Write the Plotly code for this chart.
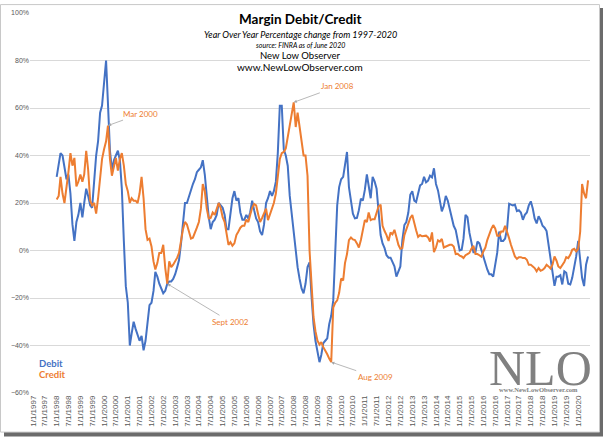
import pandas as pd
import plotly.graph_objects as go

# ---------------- data (YoY % change, monthly Jan 1998 .. Jun 2020) ----------------
months = pd.date_range("1998-01-01", "2020-06-01", freq="MS")

debit = [
    31, 36, 41, 40, 35, 30, 32, 24, 11, 4, 12, 15,                    # 1998
    20, 14, 20, 26, 23, 19, 18, 30, 40, 46, 58, 61,                   # 1999
    72, 80, 62, 42, 34, 38, 40, 42, 38, 26, 4, -15,                   # 2000
    -22, -40, -35, -30, -33, -36, -38, -36, -42, -38, -30, -23,       # 2001
    -22, -17, -9, -11, -14, -16, -18, -17, -14, -13, -13, -12,        # 2002
    -10, -7, -4, 3, 12, 20, 20, 23, 26, 28, 30, 33,                   # 2003
    34, 35, 38, 32, 23, 14, 9, 12, 13, 15, 20, 19,                    # 2004
    18, 15, 9, 9, 15, 22, 25, 21, 22, 16, 13, 13,                     # 2005
    15, 13.5, 16, 21, 17, 13.5, 12, 8, 6.5, 11, 20, 22,               # 2006
    25, 23, 25, 29, 41, 61, 61, 42.6, 40, 35.7, 23, 15,               # 2007
    8, 1, -7, -12, -16, -18, -14, -7, -5, -19, -31, -38,              # 2008
    -42, -47, -44, -39, -38, -37, -31, -27.5, -21, 1, 19, 26.7,       # 2009
    30, 31, 35.7, 41.5, 26.7, 19.7, 15.5, 13.5, 13.7, 17, 21.8, 21,   # 2010
    25.5, 32, 27, 22, 31, 29, 26, 15, 6.5, 3, 1, -2,                  # 2011
    -3, -3, -5, -6.7, -11, -9, -6.7, 4.4, 10.7, 12, 16, 23.5,         # 2012
    25, 21, 20.4, 24, 27.4, 28, 31, 28.7, 29.4, 31.5, 30.8, 34.6,     # 2013
    28, 25.3, 20.4, 16.5, 18.7, 23, 21, 17.6, 15, 10.4, 8.6, 4,       # 2014
    0, 0.3, 5, 15, 14, 7.4, 3, -0.7, -0.7, 3.75, 3, 0.3,              # 2015
    -3, -6, -8, -10, -10, -11, -6, -1, 8, 4, 4, 5,                    # 2016
    9.3, 19.7, 19.3, 19, 19.3, 16.6, 17, 16, 12.9, 15, 16, 19,        # 2017
    20.7, 17.6, 13.5, 11.4, 14.4, 12.8, 10.4, 9.6, 8.2, 2.4, -4.3, -11,   # 2018
    -14.9, -11, -11, -10.4, -14.3, -8.75, -9.4, -14, -14.3, -11.5, -7.4, -2.5,  # 2019
    4, -4.4, -11.5, -15, -6, -2.5,                                    # 2020
]

credit = [
    21.5, 23, 31, 24, 20, 26, 33, 41, 35.7, 39, 27, 29,               # 1998
    32, 29, 32, 42, 34, 21, 19, 20, 15.5, 22, 31.5, 38.5,             # 1999
    42.6, 46, 52.6, 38.5, 31.5, 35, 39, 33.6, 38.5, 41, 35.7, 28,     # 2000
    25, 20, 22, 21, 21, 20, 24, 31, 22, 9, 4.5, 5,                    # 2001
    1.7, -4.6, -8, -5.3, -1, -1, 2.4, -7.4, -14, -4.6, -7, -6,        # 2002
    -4.6, -3, -1, 4.4, 9, 12, 11, 8, 5, 5.4, 8, 9.6,                  # 2003
    12, 17.6, 28, 25, 17.6, 13.5, 13.7, 16, 15, 17.6, 20, 18,         # 2004
    14, 12, 6.5, 2.4, 3.5, 2, 3, 6.5, 8, 9.6, 10.4, 10.4,             # 2005
    13, 12, 15, 18, 19.6, 19, 15.4, 12, 13.7, 16, 17.6, 12.8,         # 2006
    15, 18, 20, 24, 30, 38.5, 41, 41.5, 43, 48, 52, 56.5,             # 2007
    62.4, 52, 58, 52, 45, 40, 40, 31.5, 0, -13, -28, -34,             # 2008
    -38, -39.6, -38.6, -40.7, -42, -43.7, -45.5, -47, -24, -22, -21, -17.8,  # 2009
    -11.8, -12.6, -5.3, -1.5, 4.4, 5.5, 4.7, 4.4, 3, 1.25, 4.4, 9,    # 2010
    12.8, 12, 16, 12.8, 13.2, 13.2, 16.3, 18.6, 19.3, 10.4, 8.2, 6.5, # 2011
    4, 7.6, 6.8, 8.7, 5.7, 2.4, 0.7, 1, 6.5, 9, 12, 13.7,             # 2012
    14.9, 11, 8.5, 5.7, 6.5, 6, 6.25, 6.25, 5.5, 3.75, 7.6, -0.7,     # 2013
    1.25, 4.3, 3.75, 4.9, 1.25, 1.7, 2, 2.4, 2.4, 1.7, -1.5, -1.4,    # 2014
    -2.2, -2.5, -3.2, -2, -1.5, -1, 0.7, 2, -1.5, -1.5, -2, -2.6,     # 2015
    -0.4, 1.25, 4.4, 7.2, 9, 10.7, 9.3, 6.25, 6.25, 8, 8, 10.4,       # 2016
    8, 5.1, 2.4, 0, -2.5, -3.5, -2.8, -2.8, -3.2, -3.2, -3.9, -6,     # 2017
    -6, -6.7, -7.4, -8.75, -7.4, -8.5, -8.2, -7.4, -6, -6.7, -7.6, -6,  # 2018
    -2.5, -4.3, -6.7, -7.4, -6, -4.9, -2.8, -3.2, -1.8, 0.3, 0.7, -0.4, # 2019
    0.7, 8, 28, 24, 22, 29.5,                                         # 2020
]

tick_dates = pd.date_range("1997-01-01", "2020-01-01", freq="6MS")
tick_labels = [f"{d.month}/1/{d.year}" for d in tick_dates]

callout_labels = ["Mar 2000", "Sept 2002", "Jan 2008", "Aug 2009"]
callout_dates = ["2000-03-01", "2002-09-01", "2008-01-01", "2009-08-01"]

BLUE = "#4472C4"
ORANGE = "#ED7D31"

# ---------------- figure ----------------
W, H = 604, 439
L, R, T, B = 30, 14, 9, 46
PW, PH = W - L - R, H - T - B


def px(x):
    return (x - L) / PW


def py(y):
    return (H - B - y) / PH


fig = go.Figure()
fig.add_trace(go.Scatter(x=months, y=debit, mode="lines", name="Debit",
                         line=dict(color=BLUE, width=2), showlegend=False))
fig.add_trace(go.Scatter(x=months, y=credit, mode="lines", name="Credit",
                         line=dict(color=ORANGE, width=2), showlegend=False))

lab_font = dict(family="Liberation Sans", size=8, color="#595959")

fig.update_layout(
    width=W, height=H,
    margin=dict(l=L, r=R, t=T, b=B, pad=0),
    paper_bgcolor="white", plot_bgcolor="white",
    xaxis=dict(
        range=["1996-11-16", "2020-07-01"],
        tickmode="array", tickvals=list(tick_dates), ticktext=tick_labels,
        tickangle=-90, tickfont=lab_font, showgrid=False, zeroline=False,
        showline=False, ticks="", ticklen=0,
    ),
    yaxis=dict(
        range=[-60, 100], dtick=20, ticksuffix="%", tickfont=dict(family="Liberation Sans", size=7, color="#595959"),
        showgrid=True, gridcolor="#d9d9d9", gridwidth=1, zeroline=False,
        showline=False, ticks="", ticklen=0,
    ),
    font=dict(family="Lato"),
)

# callouts pointing to the credit series
offsets = {"Mar 2000": (33, -12), "Sept 2002": (63, 38), "Jan 2008": (44, -16), "Aug 2009": (44, 15)}
cred_by_date = dict(zip([d.strftime("%Y-%m-%d") for d in months], credit))
for lab, d in zip(callout_labels, callout_dates):
    ax, ay = offsets[lab]
    fig.add_annotation(x=d, y=cred_by_date[d], xref="x", yref="y", text=lab,
                       showarrow=True, ax=ax, ay=ay, arrowhead=2, arrowsize=0.8,
                       arrowwidth=0.8, arrowcolor="#a6a6a6",
                       font=dict(family="Lato", size=8, color=ORANGE))

# titles
titles = [
    ("<b>Margin Debit/Credit</b>", 15, 13.5, "black"),
    ("<i>Year Over Year Percentage change from 1997-2020</i>", 31, 9, "black"),
    ("<i>source: FINRA as of June 2020</i>", 41.5, 7, "black"),
    ("New Low Observer", 52, 9.5, "black"),
    ("www.NewLowObserver.com", 63.5, 10, "black"),
]
for txt, y, s, c in titles:
    fig.add_annotation(x=px(300), y=py(y), xref="paper", yref="paper", text=txt,
                       showarrow=False, xanchor="center", yanchor="middle",
                       font=dict(family="Lato", size=s, color=c))

# legend text
fig.add_annotation(x=px(37), y=py(363), xref="paper", yref="paper", text="<b>Debit</b>",
                   showarrow=False, xanchor="left", yanchor="middle",
                   font=dict(family="Lato", size=9.5, color=BLUE))
fig.add_annotation(x=px(37), y=py(374.5), xref="paper", yref="paper", text="<b>Credit</b>",
                   showarrow=False, xanchor="left", yanchor="middle",
                   font=dict(family="Lato", size=9.5, color=ORANGE))

# NLO logo
fig.add_annotation(x=px(540), y=py(368), xref="paper", yref="paper", text="NLO",
                   showarrow=False, xanchor="center", yanchor="middle",
                   font=dict(family="Liberation Serif", size=50, color="#808080"))
fig.add_annotation(x=px(538), y=py(389.5), xref="paper", yref="paper",
                   text="<b>www.NewLowObserver.com</b>",
                   showarrow=False, xanchor="center", yanchor="middle",
                   font=dict(family="Liberation Serif", size=6.5, color="#808080"))

# frame with drop shadow
fig.add_shape(type="rect", xref="paper", yref="paper", x0=px(4), x1=px(603), y0=py(4), y1=py(437),
              line=dict(width=0), fillcolor="#6b6b6b", layer="below")
fig.add_shape(type="rect", xref="paper", yref="paper", x0=px(0.5), x1=px(599.5), y0=py(0.5), y1=py(432.5),
              line=dict(width=1, color="#c8c8c8"), fillcolor="white", layer="below")

fig.write_html("out.html")
